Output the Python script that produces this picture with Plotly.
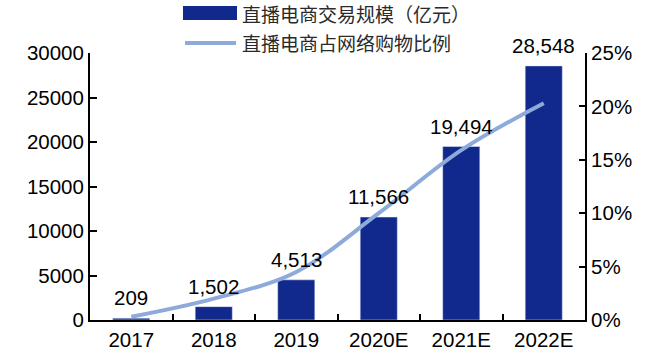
import plotly.graph_objects as go

categories = ["2017", "2018", "2019", "2020E", "2021E", "2022E"]
gmv = [209, 1502, 4513, 11566, 19494, 28548]
share_pct = [0.3, 2.0, 4.5, 10.0, 15.9, 20.3]
bar_name = "直播电商交易规模（亿元）"
line_name = "直播电商占网络购物比例"

BAR_COLOR = "#11288c"
LINE_COLOR = "#8eaadb"
FONT = "Liberation Sans, Arial, Noto Sans CJK SC"
CJK = "Noto Sans CJK SC"
FS = 20.5

fig = go.Figure()
fig.add_trace(go.Bar(x=categories, y=gmv, name=bar_name, marker_color=BAR_COLOR,
                     width=0.45, showlegend=False))
fig.add_trace(go.Scatter(x=categories, y=share_pct, name=line_name, mode="lines",
                         line=dict(color=LINE_COLOR, width=4, shape="spline"),
                         yaxis="y2", showlegend=False))

for i, v in enumerate(gmv):
    fig.add_annotation(x=i, y=v, xref="x", yref="y", text=f"{v:,}", showarrow=False,
                       yanchor="bottom", yshift=7,
                       font=dict(size=FS, color="black", family=FONT))

# plot area in page pixels (body margin removed below)
L, R, T, B = 90, 585, 53, 320
def px(x): return (x - L) / (R - L)
def py(y): return (B - y) / (B - T)
fig.add_shape(type="rect", xref="paper", yref="paper", x0=px(183), x1=px(237),
              y0=py(20), y1=py(6), fillcolor=BAR_COLOR, line_width=0)
fig.add_shape(type="line", xref="paper", yref="paper", x0=px(185), x1=px(236),
              y0=py(43), y1=py(43), line=dict(color=LINE_COLOR, width=4))
fig.add_annotation(xref="paper", yref="paper", x=px(240), y=py(13), text=bar_name,
                   showarrow=False, xanchor="left", yanchor="middle",
                   font=dict(size=19, color="#2a2a2a", family=CJK))
fig.add_annotation(xref="paper", yref="paper", x=px(240), y=py(43), text=line_name,
                   showarrow=False, xanchor="left", yanchor="middle",
                   font=dict(size=19, color="#2a2a2a", family=CJK))

fig.update_layout(
    width=658, height=363,
    margin=dict(l=L, r=658 - R, t=T, b=363 - B),
    plot_bgcolor="white", paper_bgcolor="white",
    font=dict(family=FONT, size=FS, color="black"),
    hovermode=False,
    xaxis=dict(type="category", range=[-0.5, len(categories) - 0.5], showline=True,
               linecolor="black", linewidth=2,
               ticks="inside", tickson="boundaries", ticklen=6, tickwidth=2,
               tickcolor="black", showgrid=False, tickfont=dict(size=FS), tickangle=0),
    yaxis=dict(range=[0, 30000], dtick=5000, tickformat="d", showline=True,
               linecolor="black", linewidth=2, ticks="inside", ticklen=7, tickwidth=2,
               tickcolor="black", showgrid=False, zeroline=False, tickfont=dict(size=FS)),
    yaxis2=dict(range=[0, 25], dtick=5, ticksuffix="%", overlaying="y", side="right",
                showline=True, linecolor="black", linewidth=2, ticks="inside",
                ticklen=6, tickwidth=2, tickcolor="black", showgrid=False,
                zeroline=False, tickfont=dict(size=FS)),
)

fig.write_html("out.html", config={"displayModeBar": False},
               post_script="document.body.style.margin='0';")
